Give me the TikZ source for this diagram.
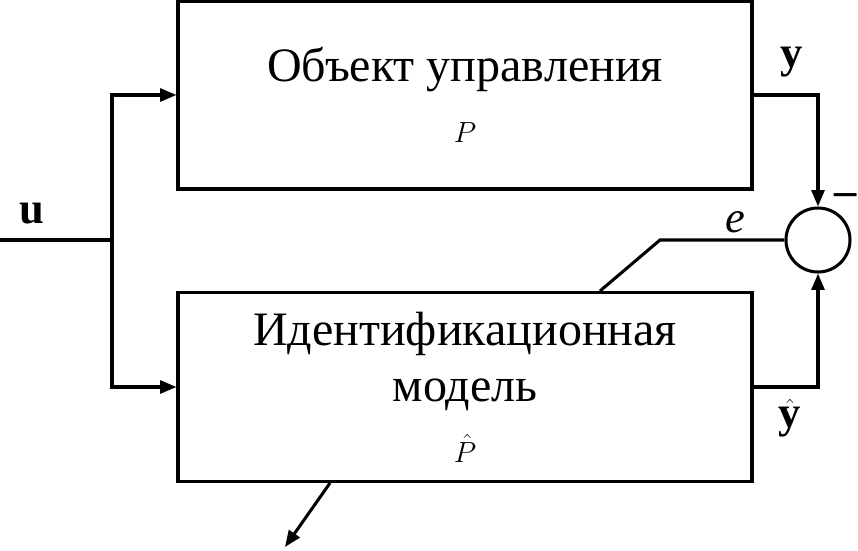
\documentclass[tikz,border=0pt]{standalone}
\usepackage{amsmath}
\usepackage{fontspec}
\setmainfont{Liberation Serif}
\usetikzlibrary{arrows.meta,positioning}
\begin{document}
\begin{tikzpicture}[x=0.03cm,y=-0.03cm,% pixel-like units
         > = {Triangle[length=14pt,width=11pt]},
   line width=2.6pt,
block/.style = {draw, minimum width=574*0.03cm, minimum height=188*0.03cm,
              inner sep=0pt, font=\fontsize{41}{48}\selectfont, align=center},
  lbl/.style = {font=\fontsize{38}{40}\selectfont\bfseries, inner sep=0pt}
                        ]
	\useasboundingbox (0,0) rectangle (858,550);
	% blocks
	\node[block] (plant) at (465,95) {Объект управления\\[4pt] $P$};
	\node[block, minimum height=189*0.03cm] (model) at (465,387) {Идентификационная\\ модель\\[4pt] $\hat{P}$};
	\node[draw, circle, minimum size=64*0.03cm, inner sep=0pt] (sum) at (818,240) {};

	% input
	\coordinate (in) at (0,240);
	\coordinate (split) at (112,240);
	\draw (in) -- (split);
	\draw[->] (split) |- (plant.west);
	\draw[->] (split) |- ([yshift=0pt]model.west);
	\node[lbl] (u) at (32,214) {u};

	% outputs
	\draw[->] (plant.east) -| (sum.north);
	\draw[->] (model.east) -| (sum.south);
	\node[lbl] (y) at (792,62) {y};
	\node[lbl] (yh) at (790,418) {$\hat{\textbf{y}}$};
	\node[lbl] (minus) at (846,200) {--};

	% error
	\coordinate (ek) at (660,240);
	\draw (sum.west) -- (ek) -- (model.north -| 600,0);
	\node[font=\fontsize{38}{40}\selectfont\itshape, inner sep=0pt] (e) at (735,222) {e};

	% adaptation
	\coordinate (adapt) at (285,547);
	\draw[->] ([xshift=-135*0.03cm]model.south) -- (adapt);
\end{tikzpicture}
\end{document}
